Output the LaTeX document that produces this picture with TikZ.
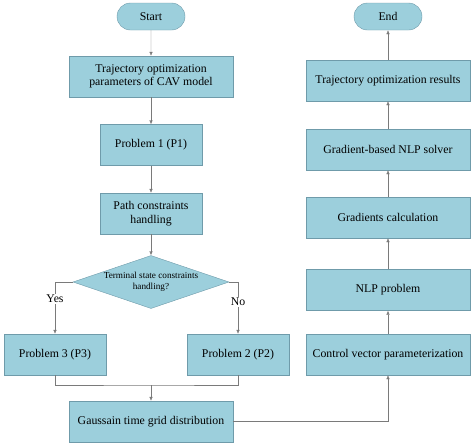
\documentclass[tikz,border=0pt]{standalone}
\usepackage{fontspec}
\setmainfont{Liberation Serif}
\usetikzlibrary{arrows.meta,shapes.geometric,shapes.misc}
\definecolor{boxfill}{HTML}{9CCFDC}
\definecolor{boxline}{HTML}{6F9BAA}
\definecolor{flowline}{HTML}{7A7A7A}

\begin{document}
\begin{tikzpicture}[x=1pt,y=-1pt,
  every node/.style = {draw=boxline, fill=boxfill, align=center,
    inner sep=0pt, font=\fontsize{11.8}{13.5}\selectfont},
  stepbox/.style = {rectangle, minimum height=41pt},
  wide/.style = {stepbox, minimum width=164pt},
  narrow/.style = {stepbox, minimum width=102pt},
  terminal/.style = {rounded rectangle, minimum width=68pt, minimum height=27pt},
  decision/.style = {diamond, aspect=2.9, minimum width=156pt, minimum height=53pt,
    font=\fontsize{9.2}{11}\selectfont},
  answer/.style = {draw=none, fill=white, inner sep=1pt},
  flow/.style = {draw=flowline, -{Latex[length=4pt,width=3.5pt]}},
  link/.style = {draw=flowline}]
  \useasboundingbox (0,0) rectangle (474,445);
  % left column
  \node[terminal] (start) at (151,16.5) {Start};
  \node[wide] (traj) at (151,76.5) {Trajectory optimization\\parameters of CAV model};
  \node[narrow] (p1) at (151,145) {Problem 1 (P1)};
  \node[narrow] (path) at (151,213.5) {Path constraints\\handling};
  \node[decision] (term) at (151,282) {Terminal state constraints\\handling?};
  \node[narrow] (p3) at (55,354.5) {Problem 3 (P3)};
  \node[narrow] (p2) at (238,354.5) {Problem 2 (P2)};
  \node[wide] (gauss) at (151,421.5) {Gaussain time grid distribution};
  % right column
  \node[wide] (cvp) at (388,354.5) {Control vector parameterization};
  \node[wide] (nlp) at (388,290) {NLP problem};
  \node[wide] (grad) at (388,217.5) {Gradients calculation};
  \node[wide] (solver) at (388,149.5) {Gradient-based NLP solver};
  \node[wide] (result) at (388,80.5) {Trajectory optimization results};
  \node[terminal] (end) at (388,16.5) {End};
  \coordinate (merge) at (151,385);

  \draw[flow] (start) -- (traj);
  \draw[flow] (traj) -- (p1);
  \draw[flow] (p1) -- (path);
  \draw[flow] (path) -- (term);
  \draw[flow] (term.west) -| (p3);
  \draw[flow] (term.east) -| (p2);
  \node[answer] at (55,299) {Yes};
  \node[answer] at (238,302) {No};
  \draw[link] (p3.south) |- (merge) -| (p2.south);
  \draw[flow] (merge) -- (gauss);
  \draw[flow] (gauss.east) -| (cvp);
  \draw[flow] (cvp) -- (nlp);
  \draw[flow] (nlp) -- (grad);
  \draw[flow] (grad) -- (solver);
  \draw[flow] (solver) -- (result);
  \draw[flow] (result) -- (end);
\end{tikzpicture}
\end{document}
